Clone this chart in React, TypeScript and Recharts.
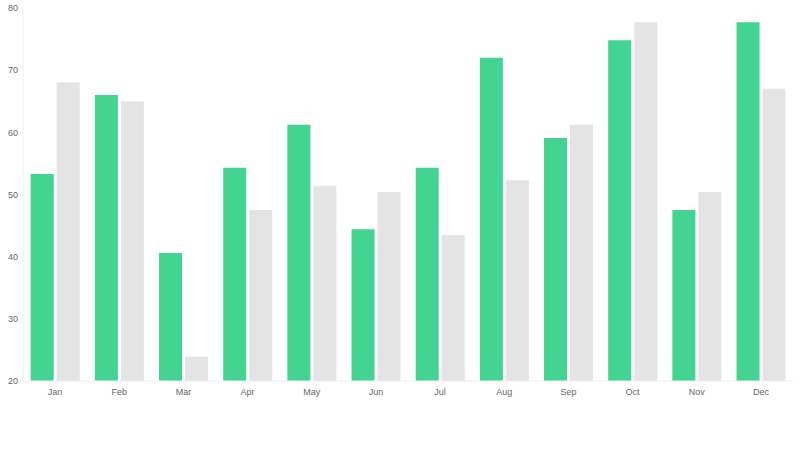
import { BarChart, Bar, XAxis, YAxis } from "recharts";

const months = ["Jan", "Feb", "Mar", "Apr", "May", "Jun", "Jul", "Aug", "Sep", "Oct", "Nov", "Dec"];
const seriesA = [53.3, 66, 40.6, 54.3, 61.2, 44.4, 54.3, 72, 59.1, 74.8, 47.5, 77.7];
const seriesB = [68, 65, 23.9, 47.5, 51.4, 50.4, 43.5, 52.3, 61.2, 77.7, 50.4, 67];
const yTicks = [20, 30, 40, 50, 60, 70, 80];

const data = months.map((m, i) => ({ month: m, a: seriesA[i], b: seriesB[i] }));

const tickStyle = { fill: "#666", fontSize: 9, fontFamily: "Liberation Sans, Arial, sans-serif" };

export default function App() {
  return (
    <div style={{ position: "absolute", top: 0, left: 0 }}>
      <BarChart
        width={800}
        height={450}
        data={data}
        margin={{ top: 8, right: 7, left: 0, bottom: 39 }}
        barGap={3}
        barCategoryGap="12%"
      >
        <XAxis
          dataKey="month"
          tick={tickStyle}
          tickLine={false}
          axisLine={{ stroke: "#eee" }}
          height={30}
        />
        <YAxis
          domain={[20, 80]}
          ticks={yTicks}
          tick={tickStyle}
          tickLine={false}
          tickSize={0}
          tickMargin={5}
          axisLine={{ stroke: "#eee" }}
          width={23}
          allowDataOverflow
        />
        <Bar dataKey="a" fill="#43D492" isAnimationActive={false} />
        <Bar dataKey="b" fill="#E4E4E4" isAnimationActive={false} />
      </BarChart>
    </div>
  );
}
